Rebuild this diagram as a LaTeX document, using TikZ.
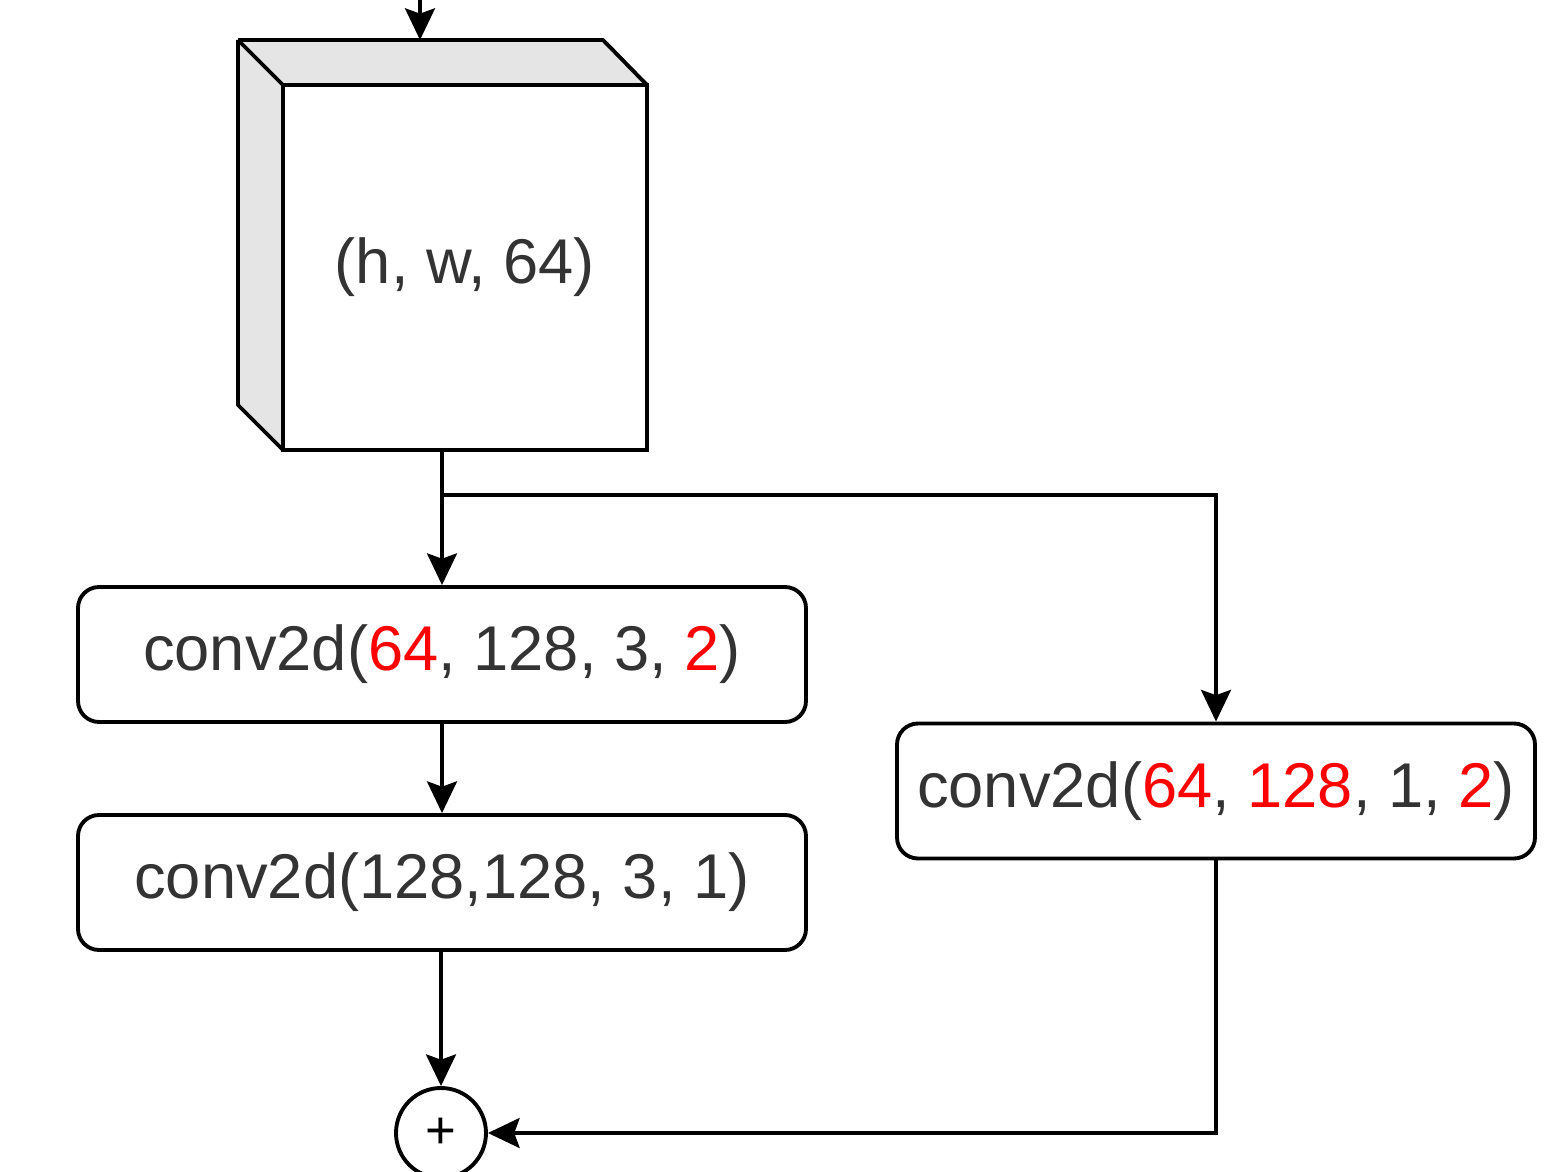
\documentclass[tikz,border=0pt]{standalone}
\usepackage{fontspec}
\setmainfont{Liberation Sans}
\usetikzlibrary{arrows.meta}
\begin{document}
\begin{tikzpicture}[x=0.02cm,y=-0.02cm,
  line width=2.2pt,
  box/.style={draw, rounded corners=12pt, minimum height=135*0.02cm, font=\fontsize{36}{40}\selectfont, text=black!80, inner sep=0pt},
  arr/.style={-{Stealth[length=18pt,width=17pt,inset=3pt]}}]
\useasboundingbox (0,0) rectangle (1546,1172);
% cube
\fill[gray!20] (238,40) -- (603,40) -- (647,85) -- (283,85) -- cycle;
\fill[gray!20] (238,40) -- (283,85) -- (283,450) -- (238,405) -- cycle;
\draw[line join=round] (238,40) -- (603,40) -- (647,85) (238,40) -- (283,85) (238,40) -- (238,405) -- (283,450);
\node[draw, minimum width=364*0.02cm, minimum height=365*0.02cm, inner sep=0pt, font=\fontsize{36}{40}\selectfont, text=black!80] (cube) at (465,267.5) {\raisebox{-6pt}{(h, w, 64)}};
\coordinate (top) at (420,-10);
\coordinate (ctop) at (420,40);
\draw[arr] (top) -- (ctop);
\node[box, minimum width=728*0.02cm] (b1) at (442,654.5) {\raisebox{-5pt}{conv2d(\textcolor{red}{64}, 128, 3, \textcolor{red}{2})}};
\node[box, minimum width=728*0.02cm] (b2) at (442,882.5) {\raisebox{-5pt}{conv2d(128,128, 3, 1)}};
\node[box, minimum width=638*0.02cm] (b3) at (1216,791) {\raisebox{-5pt}{conv2d(\textcolor{red}{64}, \textcolor{red}{128}, 1, \textcolor{red}{2})}};
\node[draw, circle, minimum size=90*0.02cm, inner sep=0pt, font=\fontsize{30}{30}\selectfont] (plus) at (441,1133) {+};
\coordinate (j) at (442,495);
\draw[arr] (cube.south -| j) -- (b1.north);
\draw[arr] (j) -| (b3.north);
\draw[arr] (b1) -- (b2);
\draw[arr] (b2.south -| plus) -- (plus.north);
\draw[arr] (b3.south) |- (plus.east);
\end{tikzpicture}
\end{document}
